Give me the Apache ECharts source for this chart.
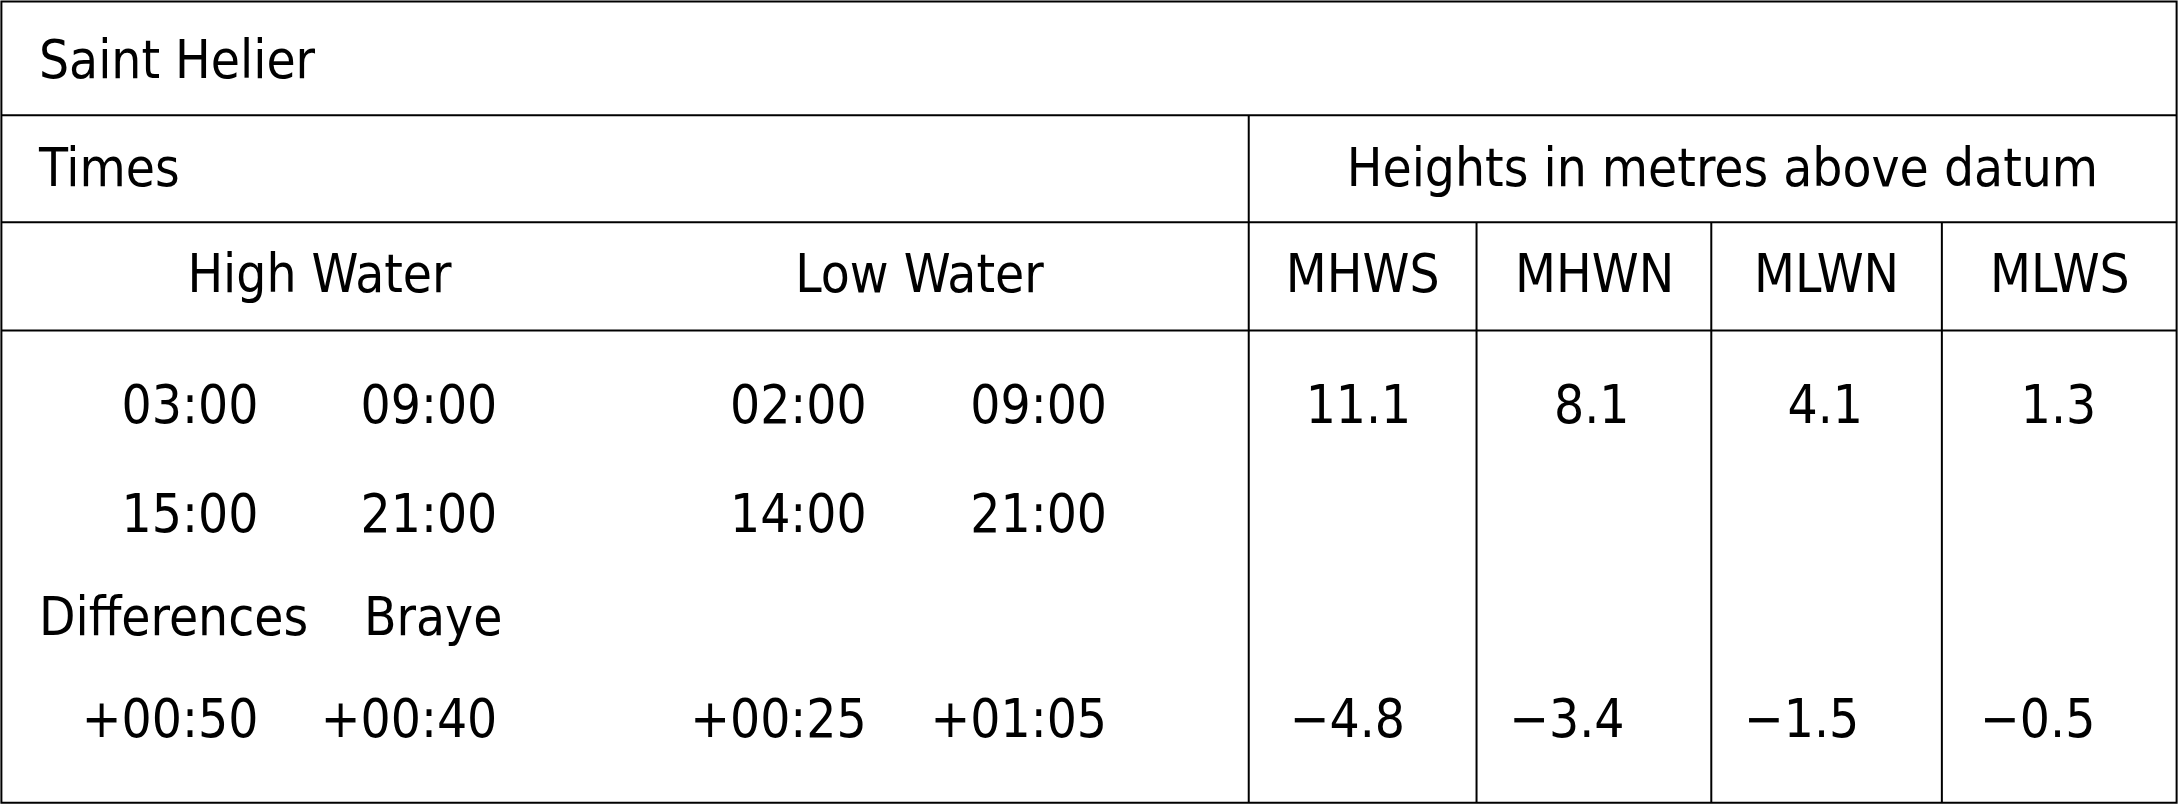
<!DOCTYPE html>
<html><head><meta charset="utf-8">
<script src="https://cdn.jsdelivr.net/npm/echarts@6/dist/echarts.min.js"></script>
<style>html,body{margin:0;padding:0;background:#fff}#c{width:2178px;height:804px}</style>
</head><body><div id="c"></div>
<script>
const title = "Saint Helier";
const groupHeaders = ["Times", "Heights in metres above datum"];
const subHeaders = ["High Water", "Low Water", "MHWS", "MHWN", "MLWN", "MLWS"];
const timesRow1 = ["03:00", "09:00", "02:00", "09:00"];
const timesRow2 = ["15:00", "21:00", "14:00", "21:00"];
const heights = ["11.1", "8.1", "4.1", "1.3"];
const diffLabel = ["Differences", "Braye"];
const diffTimes = ["+00:50", "+00:40", "+00:25", "+01:05"];
const diffHeights = ["\u22124.8", "\u22123.4", "\u22121.5", "\u22120.5"];

const s = 2178 / 1568;
const F = "'Liberation Sans Narrow','DejaVu Sans Condensed',sans-serif";
const fs = 38 * s;
const g = [];
function line(x1, y1, x2, y2) {
  g.push({type:'line', shape:{x1:x1*s, y1:y1*s, x2:x2*s, y2:y2*s}, style:{stroke:'#000', lineWidth:2}});
}
function txt(t, x, y, align) {
  g.push({type:'text', x:x*s, y:(y+2)*s, style:{text:t, font:`${fs}px ${F}`, fill:'#000', align:align||'left', verticalAlign:'middle'}});
}
g.push({type:'rect', shape:{x:1*s, y:1*s, width:1566*s, height:577*s}, style:{fill:'none', stroke:'#000', lineWidth:2}});
line(1, 83, 1567, 83); line(1, 160, 1567, 160); line(1, 238, 1567, 238);
line(899, 83, 899, 578);
[1063, 1232, 1398].forEach(x => line(x, 160, x, 578));

txt(title, 28, 44);
txt(groupHeaders[0], 28, 122);
txt(groupHeaders[1], 1240, 122, 'center');
const subX = [230, 662, 981, 1148, 1315, 1483];
subHeaders.forEach((t, i) => txt(t, subX[i], 198, 'center'));
const timeRight = [186, 358, 624, 797];
timesRow1.forEach((t, i) => txt(t, timeRight[i], 293, 'right'));
timesRow2.forEach((t, i) => txt(t, timeRight[i], 371, 'right'));
const hX = [978, 1146, 1314, 1482];
heights.forEach((t, i) => txt(t, hX[i], 293, 'center'));
txt(diffLabel[0], 28, 445);
txt(diffLabel[1], 262, 445);
diffTimes.forEach((t, i) => txt(t, timeRight[i], 519, 'right'));
const dX = [970, 1128, 1297, 1467];
diffHeights.forEach((t, i) => txt(t, dX[i], 519, 'center'));

const chart = echarts.init(document.getElementById('c'));
chart.setOption({animation:false, graphic:{elements:g}});
</script></body></html>
